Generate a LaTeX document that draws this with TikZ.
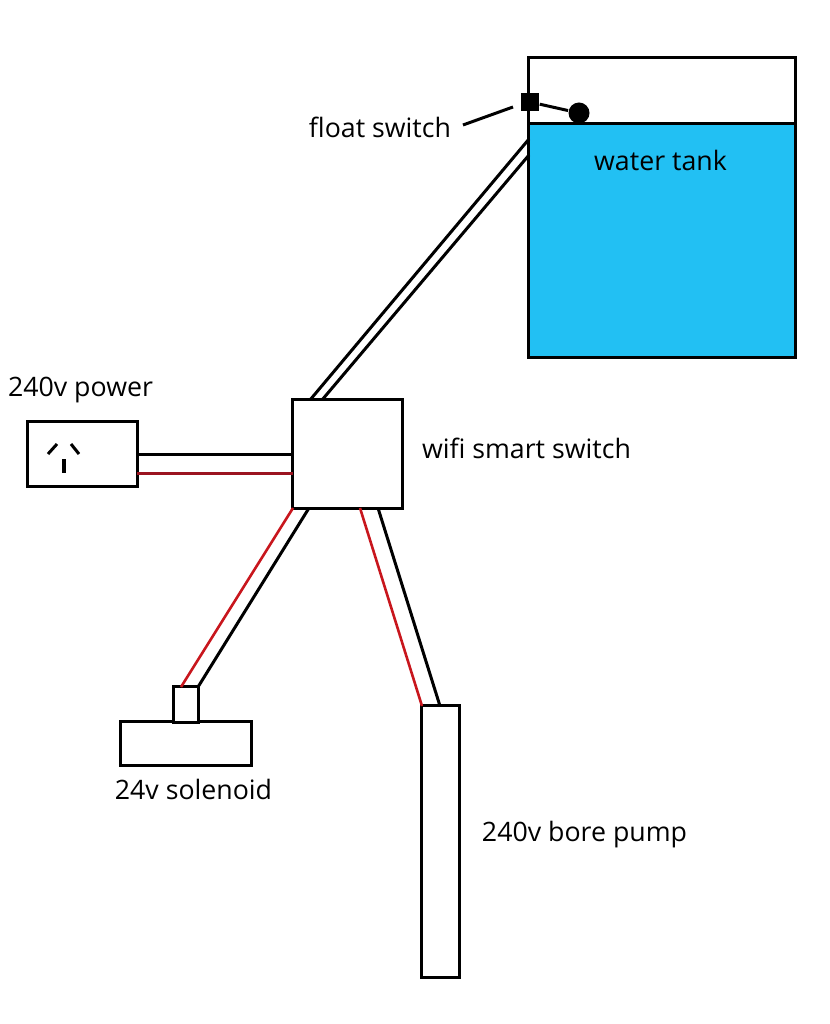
\documentclass[tikz,border=0pt]{standalone}
\usepackage{fontspec}
\setmainfont{Open Sans}
\definecolor{waterblue}{HTML}{22C0F3}
\definecolor{wirered}{HTML}{C8161D}
\definecolor{darkred}{HTML}{9B1420}
\tikzset{
  box/.style={draw=black, line width=0.03cm, fill=white, inner sep=0pt, outer sep=0pt},
  wire/.style={draw=black, line width=0.03cm},
  redwire/.style={draw=wirered, line width=0.026cm},
  lbl/.style={inner sep=0pt, font=\fontsize{7.6}{9}\selectfont, text=black},
}
\begin{document}
\begin{tikzpicture}[x=0.01cm,y=-0.01cm]
  \useasboundingbox (0,0) rectangle (829,1024);

  % Tank
  \node[box, minimum width=2.66cm, minimum height=2.99cm] (tank) at (662,207.5) {};
  \node[box, fill=waterblue, minimum width=2.66cm, minimum height=2.33cm] (water) at (662,240.5) {};
  \node[lbl] (watertext) at (660.5,160) {water tank};

  % Float switch
  \node[fill=black, inner sep=0pt, minimum size=0.18cm] (float) at (530,102) {};
  \node[circle, fill=black, inner sep=0pt, minimum size=0.21cm] (ball) at (579,113) {};
  \draw[wire] (float) -- (ball);
  \node[lbl] (floattext) at (380,127) {float switch};
  \coordinate (leadera) at (463,125);
  \coordinate (leaderb) at (513,107);
  \draw[wire] (leadera) -- (leaderb);

  % Smart switch
  \node[box, minimum width=1.09cm, minimum height=1.08cm] (smart) at (347.5,454) {};
  \node[lbl] (smarttext) at (526.5,448.5) {wifi smart switch};

  % Power outlet
  \node[box, minimum width=1.09cm, minimum height=0.64cm] (outlet) at (82.5,454) {};
  \node[lbl] (powertext) at (80.5,390) {240v power};
  \draw[wire] (48,454) -- (57,444);
  \draw[wire] (71,444) -- (79,454);
  \draw[wire] (64,459) -- (64,473);

  % Solenoid
  \node[box, minimum width=1.30cm, minimum height=0.43cm] (solenoid) at (186,743.5) {};
  \node[box, minimum width=0.24cm, minimum height=0.35cm] (stem) at (186,704.5) {};
  \node[lbl] (solenoidtext) at (193.5,789.5) {24v solenoid};

  % Bore pump
  \node[box, minimum width=0.37cm, minimum height=2.71cm] (pump) at (440.5,841.5) {};
  \node[lbl] (pumptext) at (584.5,835) {240v bore pump};

  % Wire ends
  \coordinate (tanka) at (529,139);
  \coordinate (tankb) at (529,155);
  \coordinate (smarta) at (310,400);
  \coordinate (smartb) at (322,400);
  \coordinate (smartc) at (293,454);
  \coordinate (smartd) at (293,473.5);
  \coordinate (outletc) at (137,454);
  \coordinate (outletd) at (137,473.5);
  \coordinate (smarte) at (293,508);
  \coordinate (smartf) at (309,508);
  \coordinate (stema) at (181,687);
  \coordinate (stemb) at (198,687);
  \coordinate (smartg) at (360,508);
  \coordinate (smarth) at (378,508);
  \coordinate (pumpa) at (422,706);
  \coordinate (pumpb) at (440,706);

  \draw[wire] (tanka) -- (smarta);
  \draw[wire] (tankb) -- (smartb);
  \draw[wire] (outletc) -- (smartc);
  \draw[redwire, draw=darkred] (outletd) -- (smartd);
  \draw[redwire] (smarte) -- (stema);
  \draw[wire] (smartf) -- (stemb);
  \draw[redwire] (smartg) -- (pumpa);
  \draw[wire] (smarth) -- (pumpb);
\end{tikzpicture}
\end{document}
